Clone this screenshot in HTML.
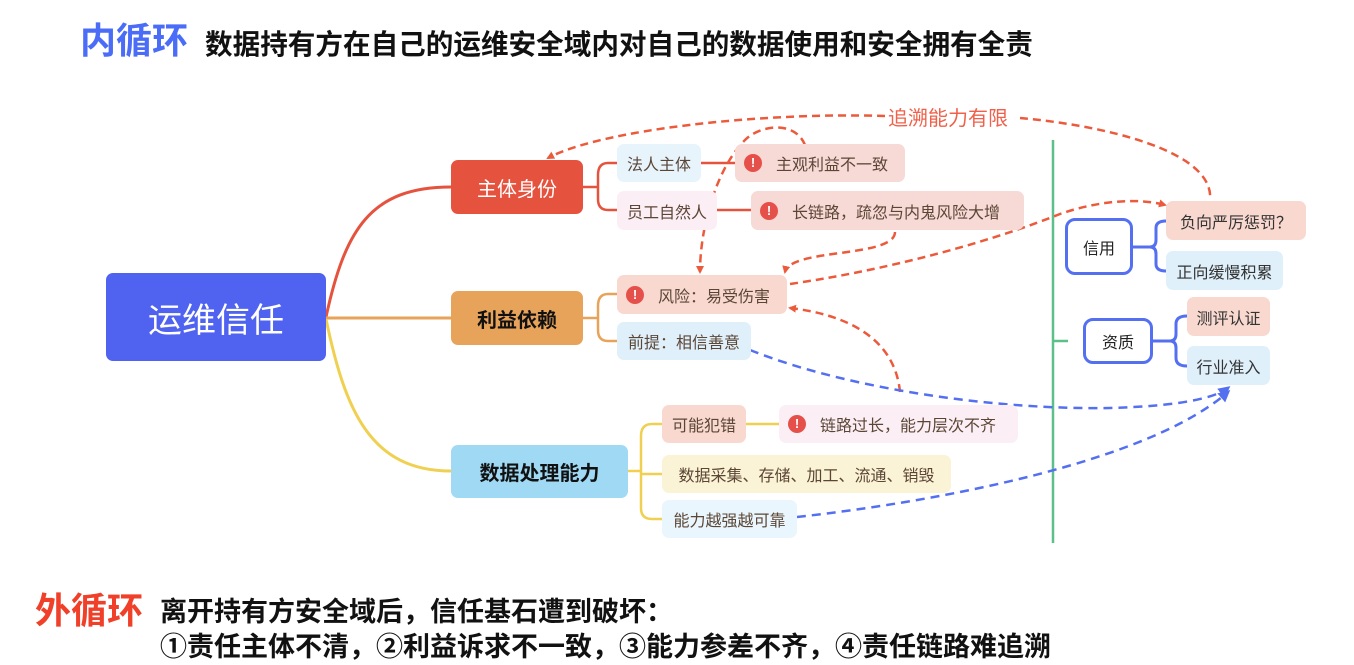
<!DOCTYPE html>
<html><head><meta charset="utf-8"><style>
body{margin:0;width:1354px;height:665px;background:#fff;position:relative;overflow:hidden;font-family:"Liberation Sans","Noto Sans CJK SC",sans-serif}
.a{position:absolute;white-space:nowrap}
.n{position:absolute;display:flex;align-items:center;justify-content:center;border-radius:7px;font-size:16px;color:#5b4636;box-sizing:border-box;white-space:nowrap}
.l{justify-content:flex-start;padding-left:9px}
.w{display:inline-block;width:18px;height:18px;border-radius:50%;background:#e6504a;color:#fff;font-size:13px;font-weight:bold;text-align:center;line-height:18px;margin-right:14px}
.b{border:3px solid #5470f0;background:#fff;border-radius:10px;color:#222;font-size:16px}
</style></head><body>
<div class="a" style="left:80px;top:12px;font-size:36px;font-weight:bold;color:#4a6cf7">内循环</div>
<div class="a" style="left:205px;top:22px;font-size:27.6px;font-weight:bold;color:#111">数据持有方在自己的运维安全域内对自己的数据使用和安全拥有全责</div>

<svg class="a" style="left:0;top:0" width="1354" height="665">
<defs>
<marker id="r" markerWidth="8" markerHeight="8" refX="6" refY="4" orient="auto" markerUnits="userSpaceOnUse"><path d="M0,0L8,4L0,8z" fill="#ec5a3c"/></marker>
<marker id="bl" markerWidth="12" markerHeight="12" refX="9" refY="6" orient="auto" markerUnits="userSpaceOnUse"><path d="M0,0L12,6L0,12z" fill="#5470f0"/></marker>
</defs>
<path d="M326,317 C345,230 370,187 451,187" stroke="#e5533f" stroke-width="3" fill="none"/>
<path d="M326,318 L451,318" stroke="#e8a35a" stroke-width="3" fill="none"/>
<path d="M326,319 C345,410 370,471 451,471" stroke="#f0d050" stroke-width="3" fill="none"/>
<path d="M583,187 H598 M617,163 H608 Q598,163 598,175 V199 Q598,210 608,210 H617 M701,163 H735 M717,210 H751" stroke="#e5533f" stroke-width="2.5" fill="none"/>
<path d="M583,318 H598 M617,294 H608 Q598,294 598,306 V330 Q598,341 608,341 H617" stroke="#e8a35a" stroke-width="2.5" fill="none"/>
<path d="M628,471 H641 M662,424 H652 Q641,424 641,436 V508 Q641,519 652,519 H662 M641,474 H662 M746,424 H779" stroke="#f0d050" stroke-width="2.5" fill="none"/>
<path d="M1053,140 V543 M1053,341 H1068" stroke="#5cc08a" stroke-width="2.5" fill="none"/>
<path d="M1133,247 H1150 Q1156,247 1156,240 V228 Q1156,221 1166,221 M1150,247 Q1156,247 1156,254 V264 Q1156,271 1166,271 M1153,341 H1170 Q1176,341 1176,334 V324 Q1176,316 1187,316 M1170,341 Q1176,341 1176,348 V358 Q1176,366 1187,366" stroke="#5470f0" stroke-width="3" fill="none"/>
<g stroke="#ec5a3c" stroke-width="2.5" fill="none" stroke-dasharray="8,5">
<path d="M885,116 C760,112 600,130 548,158" marker-end="url(#r)"/>
<path d="M1020,118 C1100,125 1215,150 1210,200"/>
<path d="M805,145 C795,120 760,125 745,140 C715,170 700,230 700,272" marker-end="url(#r)"/>
<path d="M895,232 C895,258 790,248 785,272" marker-end="url(#r)"/>
<path d="M790,284 C900,268 1000,238 1060,214 C1100,200 1140,198 1165,205" marker-end="url(#r)"/>
<path d="M900,392 C895,340 850,315 790,308" marker-end="url(#r)"/>
</g>
<g stroke="#5470f0" stroke-width="2.5" fill="none" stroke-dasharray="9,6">
<path d="M750,350 C850,390 1000,410 1110,408 C1180,406 1215,398 1228,388" marker-end="url(#bl)"/>
<path d="M797,517 C950,500 1150,460 1228,392" marker-end="url(#bl)"/>
</g>
</svg>
<div class="a" style="left:886px;top:102px;font-size:20px;color:#f0604a;background:#fff;padding:0 2px">追溯能力有限</div>

<div class="n" style="left:106px;top:273px;width:220px;height:88px;background:#4f63f0;color:#fff;font-size:34px">运维信任</div>
<div class="n" style="left:451px;top:160px;width:132px;height:54px;background:#e5533f;color:#fff;font-size:20px">主体身份</div>
<div class="n" style="left:451px;top:291px;width:132px;height:54px;background:#e8a35a;color:#111;font-size:20px;font-weight:bold">利益依赖</div>
<div class="n" style="left:451px;top:445px;width:177px;height:53px;background:#9fd9f4;color:#111;font-size:20px;font-weight:bold">数据处理能力</div>

<div class="n" style="left:617px;top:144px;width:84px;height:38px;background:#e8f4fc">法人主体</div>
<div class="n" style="left:617px;top:191px;width:100px;height:39px;background:#fbeef5">员工自然人</div>
<div class="n l" style="left:735px;top:144px;width:170px;height:38px;background:#f7d9d6"><span class="w">!</span>主观利益不一致</div>
<div class="n l" style="left:751px;top:191px;width:273px;height:39px;background:#f7d9d6"><span class="w">!</span>长链路，疏忽与内鬼风险大增</div>
<div class="n l" style="left:617px;top:275px;width:170px;height:39px;background:#f8d8cf"><span class="w">!</span>风险：易受伤害</div>
<div class="n" style="left:617px;top:322px;width:134px;height:38px;background:#dff0fb">前提：相信善意</div>
<div class="n" style="left:662px;top:405px;width:84px;height:38px;background:#f8d8cf">可能犯错</div>
<div class="n l" style="left:779px;top:405px;width:239px;height:38px;background:#fbeef5"><span class="w">!</span>链路过长，能力层次不齐</div>
<div class="n" style="left:662px;top:455px;width:289px;height:38px;background:#fbf3d6">数据采集、存储、加工、流通、销毁</div>
<div class="n" style="left:662px;top:500px;width:135px;height:38px;background:#eaf6fd">能力越强越可靠</div>

<div class="n b" style="left:1065px;top:218px;width:68px;height:57px">信用</div>
<div class="n b" style="left:1083px;top:318px;width:70px;height:46px">资质</div>
<div class="n" style="left:1166px;top:201px;width:140px;height:39px;background:#f8d8cf;color:#333">负向严厉惩罚？</div>
<div class="n" style="left:1166px;top:251px;width:117px;height:39px;background:#dff0fb;color:#333">正向缓慢积累</div>
<div class="n" style="left:1187px;top:297px;width:83px;height:39px;background:#f8d8cf;color:#333">测评认证</div>
<div class="n" style="left:1187px;top:346px;width:83px;height:39px;background:#dff0fb;color:#333">行业准入</div>

<div class="a" style="left:35px;top:582px;font-size:36px;font-weight:bold;color:#f0402a">外循环</div>
<div class="a" style="left:160px;top:590px;font-size:27px;font-weight:bold;color:#111">离开持有方安全域后，信任基石遭到破坏：</div>
<div class="a" style="left:160px;top:625px;font-size:27px;font-weight:bold;color:#111">①责任主体不清，②利益诉求不一致，③能力参差不齐，④责任链路难追溯</div>
</body></html>
